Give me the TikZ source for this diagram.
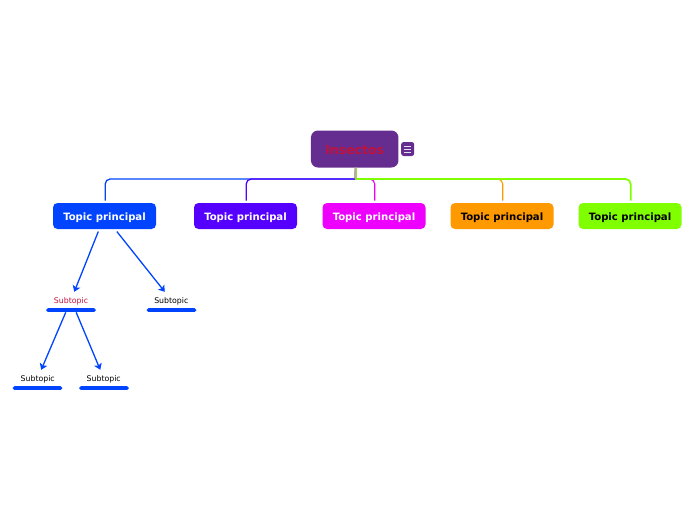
\documentclass[tikz,border=0pt]{standalone}
\usepackage{fontspec}
\setmainfont{DejaVu Sans}
\usetikzlibrary{arrows.meta}
\definecolor{cblue}{HTML}{0044FF}
\definecolor{cviolet}{HTML}{5500FF}
\definecolor{cmag}{HTML}{EE00FF}
\definecolor{corange}{HTML}{FF9900}
\definecolor{cgreen}{HTML}{80FF00}
\definecolor{cpurple}{HTML}{662D91}
\definecolor{cred}{HTML}{C1123A}
\definecolor{cstem}{HTML}{B8AC9C}
\tikzset{
  x=1pt,y=-1pt,
  rootbox/.style={fill=cpurple,rounded corners=7pt,minimum width=87.5pt,minimum height=37pt,inner sep=0pt,text=cred,text height=12pt,text depth=.4pt,font=\fontsize{12.5}{14}\selectfont\bfseries},
  iconbox/.style={fill=cpurple,rounded corners=2.5pt,minimum width=13pt,minimum height=14pt,inner sep=0pt},
  topicbox/.style={rounded corners=4.5pt,minimum width=103pt,minimum height=26pt,inner sep=0pt,outer ysep=2.5pt,text height=9.2pt,text depth=1pt,font=\fontsize{10.1}{12}\selectfont\bfseries},
  subtext/.style={minimum width=44pt,minimum height=16pt,inner sep=0pt,text height=7pt,text depth=.6pt,font=\fontsize{7.8}{9}\selectfont},
  subbar/.style={fill=cblue,rounded corners=1.8pt,minimum width=50pt,minimum height=3.6pt,inner sep=0pt},
  bus/.style={line width=1.3pt,rounded corners=5pt},
  link/.style={line width=1.3pt,draw=cblue,-{Stealth[length=6pt,width=8pt,inset=1.4pt]}},
}
\begin{document}
\begin{tikzpicture}
\useasboundingbox (0,0) rectangle (696,520);
\node[rootbox] (root) at (354.7,149) {Insectos};
\node[iconbox] (icon) at (407.7,149) {};
\foreach \yy in {146,149,152}{\draw[white!85!cpurple,line width=.7pt] (404.3,\yy) -- (411.2,\yy);}
\coordinate (j) at (355.3,179);
\coordinate (t1c) at (104.5,216);
\coordinate (t2c) at (245.5,216);
\coordinate (t3c) at (374,216);
\coordinate (t4c) at (502,216);
\coordinate (t5c) at (630,216);
\node[topicbox,fill=cblue,text=white] (t1) at (t1c) {Topic principal};
\node[topicbox,fill=cviolet,text=white] (t2) at (t2c) {Topic principal};
\node[topicbox,fill=cmag,text=white] (t3) at (t3c) {Topic principal};
\node[topicbox,fill=corange,text=black] (t4) at (t4c) {Topic principal};
\node[topicbox,fill=cgreen,text=black] (t5) at (t5c) {Topic principal};
\draw[bus,cblue] (j) -- ([xshift=.7pt]t1.north |- j) -- ([xshift=.7pt]t1.north);
\draw[bus,cviolet] (j) -- ([xshift=.7pt]t2.north |- j) -- ([xshift=.7pt]t2.north);
\draw[bus,cmag,line width=1.1pt] (j) -- ([xshift=.7pt]t3.north |- j) -- ([xshift=.7pt]t3.north);
\draw[bus,corange,line width=1.1pt] (j) -- ([xshift=.7pt]t4.north |- j) -- ([xshift=.7pt]t4.north);
\draw[bus,cgreen,line width=1.7pt] (j) -- ([xshift=.7pt]t5.north |- j) -- ([xshift=.7pt]t5.north);
\draw[line width=2.4pt,cstem] ([xshift=.8pt]root.south) -- ([yshift=.6pt]j);
\draw[line width=.7pt,cgreen!70!gray] ([xshift=1.5pt]root.south) -- ([xshift=1pt]j);
\node[subtext,text=cred] (s1) at (71,300) {Subtopic};
\node[subtext,text=black] (s2) at (171.3,300) {Subtopic};
\node[subtext,text=black] (s3) at (37.7,378) {Subtopic};
\node[subtext,text=black] (s4) at (103.7,378) {Subtopic};
\node[subbar] (b1) at (71,310) {};
\node[subbar] (b2) at (171.5,310) {};
\node[subbar] (b3) at (37.5,388) {};
\node[subbar] (b4) at (104,388) {};
\draw[link] (t1) -- (s1);
\draw[link] (t1) -- (s2);
\draw[link,shorten <=4.5pt] (s1) -- (s3);
\draw[link,shorten <=4.5pt] (s1) -- (s4);
\end{tikzpicture}
\end{document}
